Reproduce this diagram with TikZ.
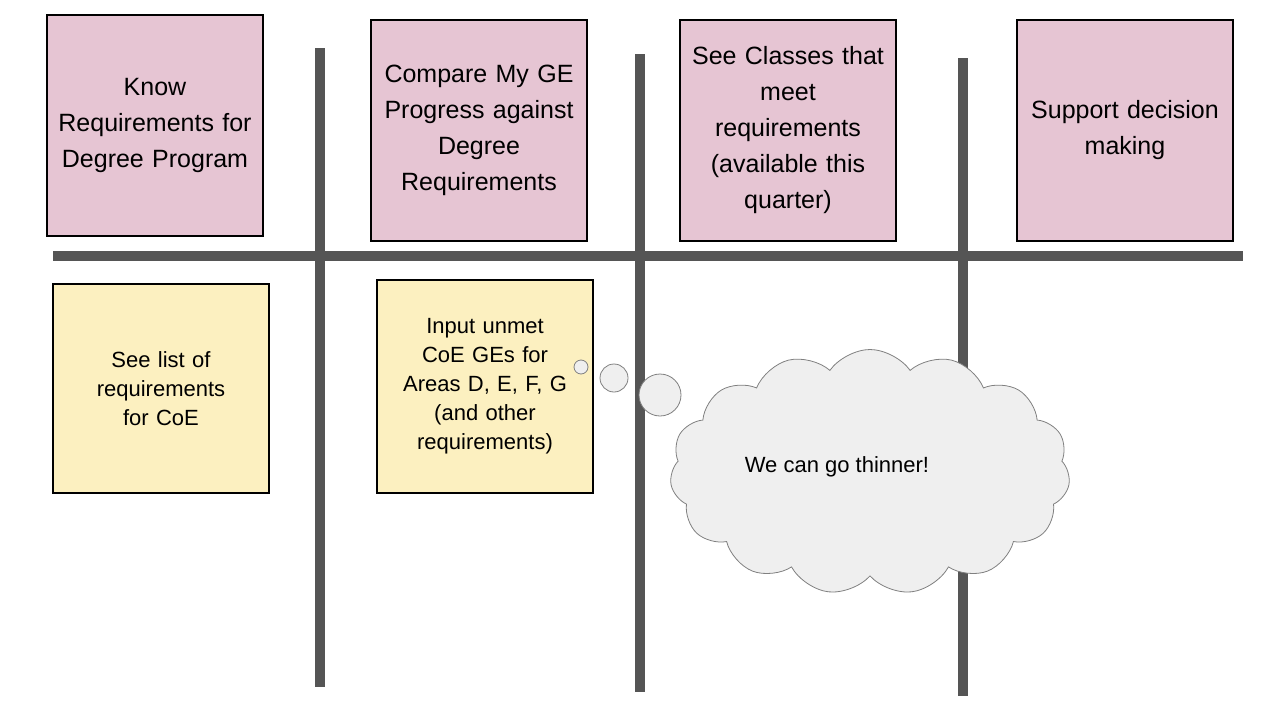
\documentclass[tikz,border=0pt]{standalone}
\usepackage{fontspec}
\setmainfont{Liberation Sans}
\usetikzlibrary{shapes.symbols}
\definecolor{pinkc}{HTML}{E6C5D3}
\definecolor{yelc}{HTML}{FCF0C0}
\definecolor{barc}{HTML}{555555}
\definecolor{cloudc}{HTML}{EFEFEF}
\tikzset{
 pinkbox/.style={draw=black,line width=1.2pt,fill=pinkc,minimum width=216pt,minimum height=221pt,align=center,font=\fontsize{25}{36}\selectfont,text width=200pt},
 yelbox/.style={draw=black,line width=1.2pt,fill=yelc,minimum width=216pt,align=center,font=\fontsize{22}{29}\selectfont,text width=200pt},
 bar/.style={barc,line width=10pt},
 bub/.style={draw=gray,fill=cloudc,line width=0.8pt,circle,inner sep=0pt}
}
\begin{document}
\begin{tikzpicture}[x=1pt,y=-1pt]
\useasboundingbox[fill=white] (0,0) rectangle (1280,720);
\node[pinkbox] (p1) at (155,125.5) {Know\\Requirements for\\Degree Program};
\node[pinkbox] (p2) at (479,130.5) {Compare My GE\\Progress against\\Degree\\Requirements};
\node[pinkbox] (p3) at (788,130.5) {See Classes that\\meet\\requirements\\(available this\\quarter)};
\node[pinkbox] (p4) at (1125,130.5) {Support decision\\making};
\draw[bar] (53,256) -- (1243,256);
\draw[bar] (320,48) -- (320,687);
\draw[bar] (640,54) -- (640,692);
\draw[bar] (963,58) -- (963,696);
\node[yelbox,minimum height=209pt] (y1) at (161,388.5) {See list of\\requirements\\for CoE};
\node[yelbox,minimum height=213pt] (y2) at (485,386.5) {Input unmet\\CoE GEs for\\Areas D, E, F, G\\(and other\\requirements)};
\node[bub,minimum size=14pt] (b1) at (581,367) {};
\node[bub,minimum size=28pt] (b2) at (614,378) {};
\node[bub,minimum size=42pt] (b3) at (660,395) {};
\node[cloud,cloud puffs=15,cloud puff arc=110,aspect=1.7,draw=gray,fill=cloudc,line width=0.8pt,minimum width=400pt,minimum height=245pt,font=\fontsize{22}{26}\selectfont] (c) at (870,472) {};
\node[font=\fontsize{22}{26}\selectfont] (ct) at (837,467) {We can go thinner!};
\end{tikzpicture}
\end{document}
